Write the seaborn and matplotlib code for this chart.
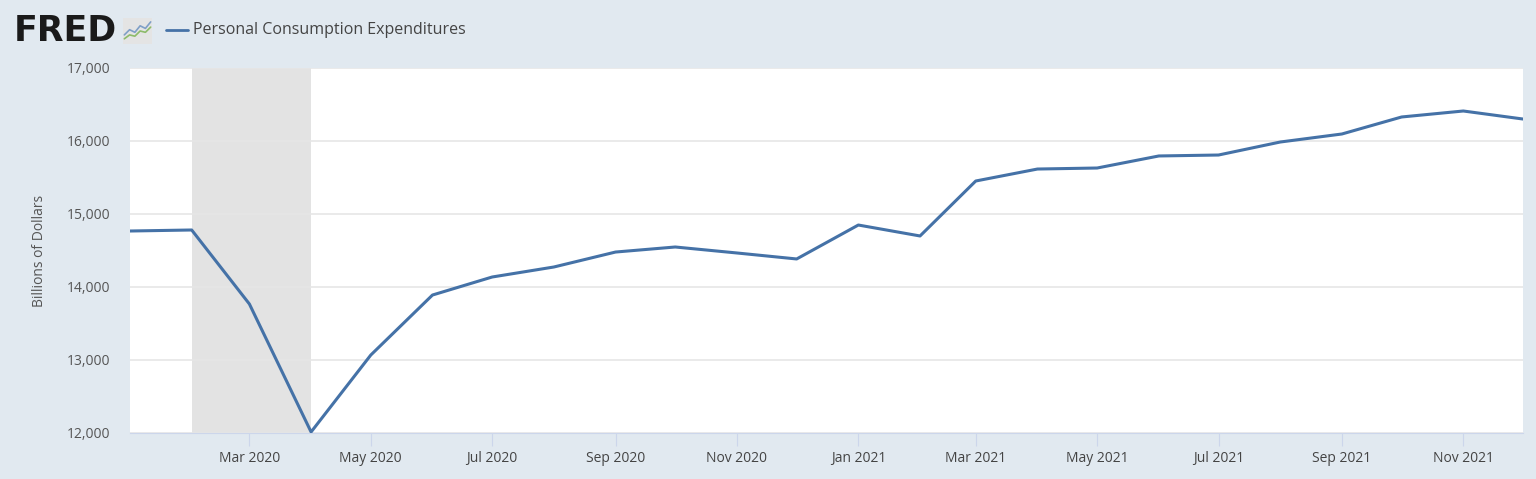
import pandas as pd
import seaborn as sns
import matplotlib.pyplot as plt
import matplotlib.dates as mdates
import matplotlib.ticker as mticker

# Monthly PCE, billions of dollars
months = pd.date_range("2020-01-01", "2021-12-01", freq="MS")
pce = [14767, 14781, 13767, 12014, 13068, 13890, 14137, 14274, 14479, 14548, 14466, 14384,
       14849, 14699, 15452, 15616, 15630, 15795, 15808, 15986, 16096, 16329, 16411, 16301]
recession_start = pd.Timestamp("2020-02-01")
recession_end = pd.Timestamp("2020-04-01")
series_name = "Personal Consumption Expenditures"

# little logo sparkline (decoration only)
logo_blue = [0.35, 0.55, 0.45, 0.7, 0.6, 0.85]
logo_green = [0.2, 0.35, 0.3, 0.5, 0.45, 0.65]

df = pd.DataFrame({"date": months, "value": pce})

sns.set_style("white")
plt.rcParams["font.family"] = ["Open Sans", "DejaVu Sans"]

bg = "#e1e9f0"
fig = plt.figure(figsize=(15.36, 4.79), dpi=100, facecolor=bg)
ax = fig.add_axes([130 / 1536, 46 / 479, 1393 / 1536, 365 / 479])
ax.set_facecolor("white")

ax.axvspan(recession_start, recession_end, color="#e3e3e3", lw=0, zorder=0)
sns.lineplot(data=df, x="date", y="value", ax=ax, color="#4572a7", linewidth=2.2, zorder=3)

ax.set_xlim(months[0], months[-1])
ax.set_ylim(12000, 17000)
ax.yaxis.set_major_locator(mticker.MultipleLocator(1000))
ax.yaxis.set_major_formatter(mticker.FuncFormatter(lambda v, p: f"{int(v):,}"))
ax.set_xticks(months[2::2])
ax.xaxis.set_major_formatter(mdates.DateFormatter("%b %Y"))

ax.grid(axis="y", color="#e6e6e6", linewidth=1.2)
ax.grid(axis="x", visible=False)
ax.set_axisbelow(True)
for s in ["top", "right", "left"]:
    ax.spines[s].set_visible(False)
ax.spines["bottom"].set_color("#ccd6eb")
ax.tick_params(axis="x", length=9, color="#ccd6eb", labelsize=10, labelcolor="#444444", pad=4, bottom=True)
ax.tick_params(axis="y", length=0, labelsize=10, labelcolor="#555555", pad=14)

ax.set_xlabel("")
ax.set_ylabel("Billions of Dollars", fontsize=10, color="#555555", labelpad=14)

# header: FRED logo and legend entry
fig.text(14 / 1536, 1 - 31 / 479, "FRED", fontsize=25, fontweight="heavy",
         color="#1a1a1a", va="center", ha="left", family=["DejaVu Sans"])
icon = fig.add_axes([123 / 1536, 1 - 44 / 479, 29 / 1536, 26 / 479])
icon.set_facecolor("#e4e4e4")
icon.plot(range(len(logo_blue)), logo_blue, color="#7f9fc7", lw=1.2)
icon.plot(range(len(logo_green)), logo_green, color="#8dbb6a", lw=1.2)
icon.set_ylim(0, 1)
icon.set_xticks([])
icon.set_yticks([])
for s in icon.spines.values():
    s.set_visible(False)
fig.lines.append(plt.Line2D([166 / 1536, 188 / 1536], [1 - 30 / 479, 1 - 30 / 479],
                            transform=fig.transFigure, color="#4572a7", lw=2))
fig.text(193 / 1536, 1 - 30 / 479, series_name, fontsize=11.5, color="#444444", va="center", ha="left")

fig.savefig("out.png", dpi=100, facecolor=bg)
